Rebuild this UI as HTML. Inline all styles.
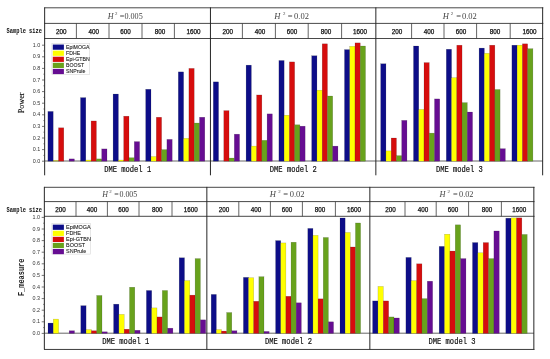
<!DOCTYPE html>
<html><head><meta charset="utf-8"><title>Power and F_measure</title>
<style>
html,body{margin:0;padding:0;background:#fff;}
svg{display:block}
text{fill:#222}
.tk{font-family:"Liberation Sans",sans-serif;font-size:5.4px;fill:#333}
.cl{font-family:"Liberation Sans",sans-serif;font-size:6.3px;fill:#111;stroke:#111;stroke-width:0.25px}
.lg{font-family:"Liberation Sans",sans-serif;fill:#222;stroke:#222;stroke-width:0.1px}
.tt{font-family:"Liberation Serif",serif;fill:#444}
.pw{font-family:"Liberation Serif",serif;font-size:8.1px;fill:#111;stroke:#111;stroke-width:0.15px}
.ss{font-family:"Liberation Mono",monospace;font-size:7px;font-weight:bold;fill:#111}
.dm{font-family:"Liberation Mono",monospace;font-size:8.6px;fill:#111;stroke:#111;stroke-width:0.2px}
.fm{font-family:"Liberation Mono",monospace;font-size:8.6px;font-weight:bold;fill:#222}
</style></head>
<body>
<svg width="550" height="359" viewBox="0 0 550 359">
<defs><filter id="soft" x="0" y="0" width="550" height="359" filterUnits="userSpaceOnUse"><feGaussianBlur stdDeviation="0.35"/></filter></defs>
<rect width="550" height="359" fill="#fff"/>
<g filter="url(#soft)">
<rect width="550" height="359" fill="#fff"/>
<line x1="44.8" y1="161.0" x2="542.8" y2="161.0" stroke="#555" stroke-width="0.9"/>
<rect x="47.90" y="111.44" width="5.30" height="49.76" fill="#0a1088" stroke="#000" stroke-opacity="0.28" stroke-width="0.45"/>
<rect x="53.20" y="160.50" width="5.30" height="0.70" fill="#ffff00" stroke="#000" stroke-opacity="0.28" stroke-width="0.45"/>
<rect x="58.50" y="127.79" width="5.30" height="33.41" fill="#d60e0e" stroke="#000" stroke-opacity="0.28" stroke-width="0.45"/>
<rect x="69.10" y="158.88" width="5.30" height="2.32" fill="#660e92" stroke="#000" stroke-opacity="0.28" stroke-width="0.45"/>
<rect x="80.50" y="97.63" width="5.30" height="63.57" fill="#0a1088" stroke="#000" stroke-opacity="0.28" stroke-width="0.45"/>
<rect x="85.80" y="160.04" width="5.30" height="1.16" fill="#ffff00" stroke="#000" stroke-opacity="0.28" stroke-width="0.45"/>
<rect x="91.10" y="120.95" width="5.30" height="40.25" fill="#d60e0e" stroke="#000" stroke-opacity="0.28" stroke-width="0.45"/>
<rect x="96.40" y="158.88" width="5.30" height="2.32" fill="#68a21c" stroke="#000" stroke-opacity="0.28" stroke-width="0.45"/>
<rect x="101.70" y="148.90" width="5.30" height="12.30" fill="#660e92" stroke="#000" stroke-opacity="0.28" stroke-width="0.45"/>
<rect x="113.10" y="94.04" width="5.30" height="67.16" fill="#0a1088" stroke="#000" stroke-opacity="0.28" stroke-width="0.45"/>
<rect x="118.40" y="160.04" width="5.30" height="1.16" fill="#ffff00" stroke="#000" stroke-opacity="0.28" stroke-width="0.45"/>
<rect x="123.70" y="116.19" width="5.30" height="45.01" fill="#d60e0e" stroke="#000" stroke-opacity="0.28" stroke-width="0.45"/>
<rect x="129.00" y="157.72" width="5.30" height="3.48" fill="#68a21c" stroke="#000" stroke-opacity="0.28" stroke-width="0.45"/>
<rect x="134.30" y="141.60" width="5.30" height="19.60" fill="#660e92" stroke="#000" stroke-opacity="0.28" stroke-width="0.45"/>
<rect x="145.70" y="89.28" width="5.30" height="71.92" fill="#0a1088" stroke="#000" stroke-opacity="0.28" stroke-width="0.45"/>
<rect x="151.00" y="156.56" width="5.30" height="4.64" fill="#ffff00" stroke="#000" stroke-opacity="0.28" stroke-width="0.45"/>
<rect x="156.30" y="117.24" width="5.30" height="43.96" fill="#d60e0e" stroke="#000" stroke-opacity="0.28" stroke-width="0.45"/>
<rect x="161.60" y="149.60" width="5.30" height="11.60" fill="#68a21c" stroke="#000" stroke-opacity="0.28" stroke-width="0.45"/>
<rect x="166.90" y="139.39" width="5.30" height="21.81" fill="#660e92" stroke="#000" stroke-opacity="0.28" stroke-width="0.45"/>
<rect x="178.30" y="71.88" width="5.30" height="89.32" fill="#0a1088" stroke="#000" stroke-opacity="0.28" stroke-width="0.45"/>
<rect x="183.60" y="138.35" width="5.30" height="22.85" fill="#ffff00" stroke="#000" stroke-opacity="0.28" stroke-width="0.45"/>
<rect x="188.90" y="68.40" width="5.30" height="92.80" fill="#d60e0e" stroke="#000" stroke-opacity="0.28" stroke-width="0.45"/>
<rect x="194.20" y="123.04" width="5.30" height="38.16" fill="#68a21c" stroke="#000" stroke-opacity="0.28" stroke-width="0.45"/>
<rect x="199.50" y="117.24" width="5.30" height="43.96" fill="#660e92" stroke="#000" stroke-opacity="0.28" stroke-width="0.45"/>
<rect x="213.30" y="81.86" width="5.25" height="79.34" fill="#0a1088" stroke="#000" stroke-opacity="0.28" stroke-width="0.45"/>
<rect x="223.80" y="110.62" width="5.25" height="50.58" fill="#d60e0e" stroke="#000" stroke-opacity="0.28" stroke-width="0.45"/>
<rect x="229.05" y="158.07" width="5.25" height="3.13" fill="#68a21c" stroke="#000" stroke-opacity="0.28" stroke-width="0.45"/>
<rect x="234.30" y="134.17" width="5.25" height="27.03" fill="#660e92" stroke="#000" stroke-opacity="0.28" stroke-width="0.45"/>
<rect x="246.10" y="65.15" width="5.25" height="96.05" fill="#0a1088" stroke="#000" stroke-opacity="0.28" stroke-width="0.45"/>
<rect x="251.35" y="146.12" width="5.25" height="15.08" fill="#ffff00" stroke="#000" stroke-opacity="0.28" stroke-width="0.45"/>
<rect x="256.60" y="94.96" width="5.25" height="66.24" fill="#d60e0e" stroke="#000" stroke-opacity="0.28" stroke-width="0.45"/>
<rect x="261.85" y="140.32" width="5.25" height="20.88" fill="#68a21c" stroke="#000" stroke-opacity="0.28" stroke-width="0.45"/>
<rect x="267.10" y="113.87" width="5.25" height="47.33" fill="#660e92" stroke="#000" stroke-opacity="0.28" stroke-width="0.45"/>
<rect x="278.90" y="60.51" width="5.25" height="100.69" fill="#0a1088" stroke="#000" stroke-opacity="0.28" stroke-width="0.45"/>
<rect x="284.15" y="115.26" width="5.25" height="45.94" fill="#ffff00" stroke="#000" stroke-opacity="0.28" stroke-width="0.45"/>
<rect x="289.40" y="61.90" width="5.25" height="99.30" fill="#d60e0e" stroke="#000" stroke-opacity="0.28" stroke-width="0.45"/>
<rect x="294.65" y="124.78" width="5.25" height="36.42" fill="#68a21c" stroke="#000" stroke-opacity="0.28" stroke-width="0.45"/>
<rect x="299.90" y="126.17" width="5.25" height="35.03" fill="#660e92" stroke="#000" stroke-opacity="0.28" stroke-width="0.45"/>
<rect x="311.70" y="55.76" width="5.25" height="105.44" fill="#0a1088" stroke="#000" stroke-opacity="0.28" stroke-width="0.45"/>
<rect x="316.95" y="90.21" width="5.25" height="70.99" fill="#ffff00" stroke="#000" stroke-opacity="0.28" stroke-width="0.45"/>
<rect x="322.20" y="43.81" width="5.25" height="117.39" fill="#d60e0e" stroke="#000" stroke-opacity="0.28" stroke-width="0.45"/>
<rect x="327.45" y="96.01" width="5.25" height="65.19" fill="#68a21c" stroke="#000" stroke-opacity="0.28" stroke-width="0.45"/>
<rect x="332.70" y="146.12" width="5.25" height="15.08" fill="#660e92" stroke="#000" stroke-opacity="0.28" stroke-width="0.45"/>
<rect x="344.50" y="49.61" width="5.25" height="111.59" fill="#0a1088" stroke="#000" stroke-opacity="0.28" stroke-width="0.45"/>
<rect x="349.75" y="46.36" width="5.25" height="114.84" fill="#ffff00" stroke="#000" stroke-opacity="0.28" stroke-width="0.45"/>
<rect x="355.00" y="42.88" width="5.25" height="118.32" fill="#d60e0e" stroke="#000" stroke-opacity="0.28" stroke-width="0.45"/>
<rect x="360.25" y="46.01" width="5.25" height="115.19" fill="#68a21c" stroke="#000" stroke-opacity="0.28" stroke-width="0.45"/>
<rect x="380.70" y="63.76" width="5.25" height="97.44" fill="#0a1088" stroke="#000" stroke-opacity="0.28" stroke-width="0.45"/>
<rect x="385.95" y="150.88" width="5.25" height="10.32" fill="#ffff00" stroke="#000" stroke-opacity="0.28" stroke-width="0.45"/>
<rect x="391.20" y="138.00" width="5.25" height="23.20" fill="#d60e0e" stroke="#000" stroke-opacity="0.28" stroke-width="0.45"/>
<rect x="396.45" y="155.63" width="5.25" height="5.57" fill="#68a21c" stroke="#000" stroke-opacity="0.28" stroke-width="0.45"/>
<rect x="401.70" y="120.37" width="5.25" height="40.83" fill="#660e92" stroke="#000" stroke-opacity="0.28" stroke-width="0.45"/>
<rect x="413.50" y="46.01" width="5.25" height="115.19" fill="#0a1088" stroke="#000" stroke-opacity="0.28" stroke-width="0.45"/>
<rect x="418.75" y="109.46" width="5.25" height="51.74" fill="#ffff00" stroke="#000" stroke-opacity="0.28" stroke-width="0.45"/>
<rect x="424.00" y="62.60" width="5.25" height="98.60" fill="#d60e0e" stroke="#000" stroke-opacity="0.28" stroke-width="0.45"/>
<rect x="429.25" y="133.13" width="5.25" height="28.07" fill="#68a21c" stroke="#000" stroke-opacity="0.28" stroke-width="0.45"/>
<rect x="434.50" y="98.91" width="5.25" height="62.29" fill="#660e92" stroke="#000" stroke-opacity="0.28" stroke-width="0.45"/>
<rect x="446.30" y="49.26" width="5.25" height="111.94" fill="#0a1088" stroke="#000" stroke-opacity="0.28" stroke-width="0.45"/>
<rect x="451.55" y="77.68" width="5.25" height="83.52" fill="#ffff00" stroke="#000" stroke-opacity="0.28" stroke-width="0.45"/>
<rect x="456.80" y="45.20" width="5.25" height="116.00" fill="#d60e0e" stroke="#000" stroke-opacity="0.28" stroke-width="0.45"/>
<rect x="462.05" y="102.62" width="5.25" height="58.58" fill="#68a21c" stroke="#000" stroke-opacity="0.28" stroke-width="0.45"/>
<rect x="467.30" y="112.02" width="5.25" height="49.18" fill="#660e92" stroke="#000" stroke-opacity="0.28" stroke-width="0.45"/>
<rect x="479.10" y="48.10" width="5.25" height="113.10" fill="#0a1088" stroke="#000" stroke-opacity="0.28" stroke-width="0.45"/>
<rect x="484.35" y="53.32" width="5.25" height="107.88" fill="#ffff00" stroke="#000" stroke-opacity="0.28" stroke-width="0.45"/>
<rect x="489.60" y="45.20" width="5.25" height="116.00" fill="#d60e0e" stroke="#000" stroke-opacity="0.28" stroke-width="0.45"/>
<rect x="494.85" y="89.51" width="5.25" height="71.69" fill="#68a21c" stroke="#000" stroke-opacity="0.28" stroke-width="0.45"/>
<rect x="500.10" y="148.67" width="5.25" height="12.53" fill="#660e92" stroke="#000" stroke-opacity="0.28" stroke-width="0.45"/>
<rect x="511.90" y="45.20" width="5.25" height="116.00" fill="#0a1088" stroke="#000" stroke-opacity="0.28" stroke-width="0.45"/>
<rect x="517.15" y="45.20" width="5.25" height="116.00" fill="#ffff00" stroke="#000" stroke-opacity="0.28" stroke-width="0.45"/>
<rect x="522.40" y="43.81" width="5.25" height="117.39" fill="#d60e0e" stroke="#000" stroke-opacity="0.28" stroke-width="0.45"/>
<rect x="527.65" y="48.68" width="5.25" height="112.52" fill="#68a21c" stroke="#000" stroke-opacity="0.28" stroke-width="0.45"/>
<line x1="44.3" y1="7.8" x2="543.3" y2="7.8" stroke="#484848" stroke-width="1"/>
<line x1="44.3" y1="23.4" x2="543.3" y2="23.4" stroke="#484848" stroke-width="1"/>
<line x1="44.3" y1="38.5" x2="543.3" y2="38.5" stroke="#484848" stroke-width="1"/>
<line x1="44.65" y1="7.3999999999999995" x2="44.65" y2="175.3" stroke="#262626" stroke-width="1"/>
<line x1="210.45" y1="7.3999999999999995" x2="210.45" y2="175.3" stroke="#262626" stroke-width="1"/>
<line x1="375.85" y1="7.3999999999999995" x2="375.85" y2="175.3" stroke="#262626" stroke-width="1"/>
<line x1="542.65" y1="7.3999999999999995" x2="542.65" y2="175.3" stroke="#262626" stroke-width="1"/>
<line x1="76.4" y1="23.4" x2="76.4" y2="38.5" stroke="#3c3c3c" stroke-width="0.8"/>
<line x1="109" y1="23.4" x2="109" y2="38.5" stroke="#3c3c3c" stroke-width="0.8"/>
<line x1="142" y1="23.4" x2="142" y2="38.5" stroke="#3c3c3c" stroke-width="0.8"/>
<line x1="174.4" y1="23.4" x2="174.4" y2="38.5" stroke="#3c3c3c" stroke-width="0.8"/>
<line x1="242.4" y1="23.4" x2="242.4" y2="38.5" stroke="#3c3c3c" stroke-width="0.8"/>
<line x1="275.4" y1="23.4" x2="275.4" y2="38.5" stroke="#3c3c3c" stroke-width="0.8"/>
<line x1="308.2" y1="23.4" x2="308.2" y2="38.5" stroke="#3c3c3c" stroke-width="0.8"/>
<line x1="341.6" y1="23.4" x2="341.6" y2="38.5" stroke="#3c3c3c" stroke-width="0.8"/>
<line x1="411.6" y1="23.4" x2="411.6" y2="38.5" stroke="#3c3c3c" stroke-width="0.8"/>
<line x1="444" y1="23.4" x2="444" y2="38.5" stroke="#3c3c3c" stroke-width="0.8"/>
<line x1="476.6" y1="23.4" x2="476.6" y2="38.5" stroke="#3c3c3c" stroke-width="0.8"/>
<line x1="510.2" y1="23.4" x2="510.2" y2="38.5" stroke="#3c3c3c" stroke-width="0.8"/>
<line x1="42.0" y1="161.20" x2="44.8" y2="161.20" stroke="#3c3c3c" stroke-width="0.7"/>
<text x="40.199999999999996" y="162.80" text-anchor="end" class="tk">0.0</text>
<line x1="43.4" y1="155.40" x2="44.8" y2="155.40" stroke="#3c3c3c" stroke-width="0.6"/>
<line x1="42.0" y1="149.60" x2="44.8" y2="149.60" stroke="#3c3c3c" stroke-width="0.7"/>
<text x="40.199999999999996" y="151.20" text-anchor="end" class="tk">0.1</text>
<line x1="43.4" y1="143.80" x2="44.8" y2="143.80" stroke="#3c3c3c" stroke-width="0.6"/>
<line x1="42.0" y1="138.00" x2="44.8" y2="138.00" stroke="#3c3c3c" stroke-width="0.7"/>
<text x="40.199999999999996" y="139.60" text-anchor="end" class="tk">0.2</text>
<line x1="43.4" y1="132.20" x2="44.8" y2="132.20" stroke="#3c3c3c" stroke-width="0.6"/>
<line x1="42.0" y1="126.40" x2="44.8" y2="126.40" stroke="#3c3c3c" stroke-width="0.7"/>
<text x="40.199999999999996" y="128.00" text-anchor="end" class="tk">0.3</text>
<line x1="43.4" y1="120.60" x2="44.8" y2="120.60" stroke="#3c3c3c" stroke-width="0.6"/>
<line x1="42.0" y1="114.80" x2="44.8" y2="114.80" stroke="#3c3c3c" stroke-width="0.7"/>
<text x="40.199999999999996" y="116.40" text-anchor="end" class="tk">0.4</text>
<line x1="43.4" y1="109.00" x2="44.8" y2="109.00" stroke="#3c3c3c" stroke-width="0.6"/>
<line x1="42.0" y1="103.20" x2="44.8" y2="103.20" stroke="#3c3c3c" stroke-width="0.7"/>
<text x="40.199999999999996" y="104.80" text-anchor="end" class="tk">0.5</text>
<line x1="43.4" y1="97.40" x2="44.8" y2="97.40" stroke="#3c3c3c" stroke-width="0.6"/>
<line x1="42.0" y1="91.60" x2="44.8" y2="91.60" stroke="#3c3c3c" stroke-width="0.7"/>
<text x="40.199999999999996" y="93.20" text-anchor="end" class="tk">0.6</text>
<line x1="43.4" y1="85.80" x2="44.8" y2="85.80" stroke="#3c3c3c" stroke-width="0.6"/>
<line x1="42.0" y1="80.00" x2="44.8" y2="80.00" stroke="#3c3c3c" stroke-width="0.7"/>
<text x="40.199999999999996" y="81.60" text-anchor="end" class="tk">0.7</text>
<line x1="43.4" y1="74.20" x2="44.8" y2="74.20" stroke="#3c3c3c" stroke-width="0.6"/>
<line x1="42.0" y1="68.40" x2="44.8" y2="68.40" stroke="#3c3c3c" stroke-width="0.7"/>
<text x="40.199999999999996" y="70.00" text-anchor="end" class="tk">0.8</text>
<line x1="43.4" y1="62.60" x2="44.8" y2="62.60" stroke="#3c3c3c" stroke-width="0.6"/>
<line x1="42.0" y1="56.80" x2="44.8" y2="56.80" stroke="#3c3c3c" stroke-width="0.7"/>
<text x="40.199999999999996" y="58.40" text-anchor="end" class="tk">0.9</text>
<line x1="43.4" y1="51.00" x2="44.8" y2="51.00" stroke="#3c3c3c" stroke-width="0.6"/>
<line x1="42.0" y1="45.20" x2="44.8" y2="45.20" stroke="#3c3c3c" stroke-width="0.7"/>
<text x="40.199999999999996" y="46.80" text-anchor="end" class="tk">1.0</text>
<text x="61.20" y="34.00" text-anchor="middle" class="cl">200</text>
<text x="93.80" y="34.00" text-anchor="middle" class="cl">400</text>
<text x="125.50" y="34.00" text-anchor="middle" class="cl">600</text>
<text x="160.00" y="34.00" text-anchor="middle" class="cl">800</text>
<text x="193.50" y="34.00" text-anchor="middle" class="cl">1600</text>
<text x="227.80" y="34.00" text-anchor="middle" class="cl">200</text>
<text x="260.00" y="34.00" text-anchor="middle" class="cl">400</text>
<text x="292.00" y="34.00" text-anchor="middle" class="cl">600</text>
<text x="326.00" y="34.00" text-anchor="middle" class="cl">800</text>
<text x="360.00" y="34.00" text-anchor="middle" class="cl">1600</text>
<text x="397.00" y="34.00" text-anchor="middle" class="cl">200</text>
<text x="429.00" y="34.00" text-anchor="middle" class="cl">400</text>
<text x="461.00" y="34.00" text-anchor="middle" class="cl">600</text>
<text x="495.00" y="34.00" text-anchor="middle" class="cl">800</text>
<text x="529.40" y="34.00" text-anchor="middle" class="cl">1600</text>
<text x="6.6" y="33.4" class="ss" textLength="35.4" lengthAdjust="spacingAndGlyphs">Sample size</text>
<text class="tt" style="font-size:8.1px" y="18.5"><tspan x="107.70" font-style="italic">H</tspan><tspan x="115.00" dy="-3.7" style="font-size:4.9px">2</tspan><tspan x="119.80" dy="3.7">=</tspan><tspan x="124.50">0.005</tspan></text>
<text x="104.20" y="171.70" class="dm" textLength="47" lengthAdjust="spacingAndGlyphs">DME model 1</text>
<text class="tt" style="font-size:8.5px" y="18.5"><tspan x="274.30" font-style="italic">H</tspan><tspan x="282.90" dy="-3.7" style="font-size:4.9px">2</tspan><tspan x="287.70" dy="3.7">=</tspan><tspan x="294.10">0.02</tspan></text>
<text x="269.80" y="171.70" class="dm" textLength="47" lengthAdjust="spacingAndGlyphs">DME model 2</text>
<text class="tt" style="font-size:8.5px" y="18.5"><tspan x="442.80" font-style="italic">H</tspan><tspan x="450.80" dy="-3.7" style="font-size:4.9px">2</tspan><tspan x="456.20" dy="3.7">=</tspan><tspan x="461.90">0.02</tspan></text>
<text x="435.90" y="171.70" class="dm" textLength="47" lengthAdjust="spacingAndGlyphs">DME model 3</text>
<text transform="translate(23.5 113.22) rotate(-90)" class="pw">Power</text>
<rect x="51.9" y="43.5" width="37.8" height="30.8" fill="#fff" stroke="#d8d8d8" stroke-width="0.6"/>
<rect x="52.8" y="44.55" width="11.1" height="5.2" fill="#0a1088"/>
<text x="66.1" y="48.95" class="lg" style="font-size:5.2px">EpiMOGA</text>
<rect x="52.8" y="50.63" width="11.1" height="5.2" fill="#ffff00"/>
<text x="66.1" y="55.03" class="lg" style="font-size:5.2px">FDHE</text>
<rect x="52.8" y="56.71" width="11.1" height="5.2" fill="#d60e0e"/>
<text x="66.1" y="61.11" class="lg" style="font-size:5.2px">Epi-GTBN</text>
<rect x="52.8" y="62.79" width="11.1" height="5.2" fill="#68a21c"/>
<text x="66.1" y="67.19" class="lg" style="font-size:5.2px">BOOST</text>
<rect x="52.8" y="68.87" width="11.1" height="5.2" fill="#660e92"/>
<text x="66.1" y="73.27" class="lg" style="font-size:5.2px">SNPrule</text>
<line x1="44.5" y1="333.2" x2="534" y2="333.2" stroke="#555" stroke-width="0.9"/>
<rect x="48.00" y="323.08" width="5.30" height="10.32" fill="#0a1088" stroke="#000" stroke-opacity="0.28" stroke-width="0.45"/>
<rect x="53.30" y="319.13" width="5.30" height="14.27" fill="#ffff00" stroke="#000" stroke-opacity="0.28" stroke-width="0.45"/>
<rect x="69.20" y="330.73" width="5.30" height="2.67" fill="#660e92" stroke="#000" stroke-opacity="0.28" stroke-width="0.45"/>
<rect x="80.80" y="305.68" width="5.30" height="27.72" fill="#0a1088" stroke="#000" stroke-opacity="0.28" stroke-width="0.45"/>
<rect x="86.10" y="329.57" width="5.30" height="3.83" fill="#ffff00" stroke="#000" stroke-opacity="0.28" stroke-width="0.45"/>
<rect x="91.40" y="330.73" width="5.30" height="2.67" fill="#d60e0e" stroke="#000" stroke-opacity="0.28" stroke-width="0.45"/>
<rect x="96.70" y="295.47" width="5.30" height="37.93" fill="#68a21c" stroke="#000" stroke-opacity="0.28" stroke-width="0.45"/>
<rect x="102.00" y="331.78" width="5.30" height="1.62" fill="#660e92" stroke="#000" stroke-opacity="0.28" stroke-width="0.45"/>
<rect x="113.60" y="304.17" width="5.30" height="29.23" fill="#0a1088" stroke="#000" stroke-opacity="0.28" stroke-width="0.45"/>
<rect x="118.90" y="314.38" width="5.30" height="19.02" fill="#ffff00" stroke="#000" stroke-opacity="0.28" stroke-width="0.45"/>
<rect x="124.20" y="329.22" width="5.30" height="4.18" fill="#d60e0e" stroke="#000" stroke-opacity="0.28" stroke-width="0.45"/>
<rect x="129.50" y="287.23" width="5.30" height="46.17" fill="#68a21c" stroke="#000" stroke-opacity="0.28" stroke-width="0.45"/>
<rect x="134.80" y="330.27" width="5.30" height="3.13" fill="#660e92" stroke="#000" stroke-opacity="0.28" stroke-width="0.45"/>
<rect x="146.40" y="290.48" width="5.30" height="42.92" fill="#0a1088" stroke="#000" stroke-opacity="0.28" stroke-width="0.45"/>
<rect x="151.70" y="307.88" width="5.30" height="25.52" fill="#ffff00" stroke="#000" stroke-opacity="0.28" stroke-width="0.45"/>
<rect x="157.00" y="316.93" width="5.30" height="16.47" fill="#d60e0e" stroke="#000" stroke-opacity="0.28" stroke-width="0.45"/>
<rect x="162.30" y="290.48" width="5.30" height="42.92" fill="#68a21c" stroke="#000" stroke-opacity="0.28" stroke-width="0.45"/>
<rect x="167.60" y="328.18" width="5.30" height="5.22" fill="#660e92" stroke="#000" stroke-opacity="0.28" stroke-width="0.45"/>
<rect x="179.20" y="257.77" width="5.30" height="75.63" fill="#0a1088" stroke="#000" stroke-opacity="0.28" stroke-width="0.45"/>
<rect x="184.50" y="280.62" width="5.30" height="52.78" fill="#ffff00" stroke="#000" stroke-opacity="0.28" stroke-width="0.45"/>
<rect x="189.80" y="295.12" width="5.30" height="38.28" fill="#d60e0e" stroke="#000" stroke-opacity="0.28" stroke-width="0.45"/>
<rect x="195.10" y="258.58" width="5.30" height="74.82" fill="#68a21c" stroke="#000" stroke-opacity="0.28" stroke-width="0.45"/>
<rect x="200.40" y="319.83" width="5.30" height="13.57" fill="#660e92" stroke="#000" stroke-opacity="0.28" stroke-width="0.45"/>
<rect x="211.20" y="294.42" width="5.15" height="38.98" fill="#0a1088" stroke="#000" stroke-opacity="0.28" stroke-width="0.45"/>
<rect x="216.35" y="329.57" width="5.15" height="3.83" fill="#ffff00" stroke="#000" stroke-opacity="0.28" stroke-width="0.45"/>
<rect x="221.50" y="331.08" width="5.15" height="2.32" fill="#d60e0e" stroke="#000" stroke-opacity="0.28" stroke-width="0.45"/>
<rect x="226.65" y="312.52" width="5.15" height="20.88" fill="#68a21c" stroke="#000" stroke-opacity="0.28" stroke-width="0.45"/>
<rect x="231.80" y="330.73" width="5.15" height="2.67" fill="#660e92" stroke="#000" stroke-opacity="0.28" stroke-width="0.45"/>
<rect x="243.40" y="277.37" width="5.15" height="56.03" fill="#0a1088" stroke="#000" stroke-opacity="0.28" stroke-width="0.45"/>
<rect x="248.55" y="277.72" width="5.15" height="55.68" fill="#ffff00" stroke="#000" stroke-opacity="0.28" stroke-width="0.45"/>
<rect x="253.70" y="301.27" width="5.15" height="32.13" fill="#d60e0e" stroke="#000" stroke-opacity="0.28" stroke-width="0.45"/>
<rect x="258.85" y="276.68" width="5.15" height="56.72" fill="#68a21c" stroke="#000" stroke-opacity="0.28" stroke-width="0.45"/>
<rect x="264.00" y="331.43" width="5.15" height="1.97" fill="#660e92" stroke="#000" stroke-opacity="0.28" stroke-width="0.45"/>
<rect x="275.60" y="240.60" width="5.15" height="92.80" fill="#0a1088" stroke="#000" stroke-opacity="0.28" stroke-width="0.45"/>
<rect x="280.75" y="242.92" width="5.15" height="90.48" fill="#ffff00" stroke="#000" stroke-opacity="0.28" stroke-width="0.45"/>
<rect x="285.90" y="296.28" width="5.15" height="37.12" fill="#d60e0e" stroke="#000" stroke-opacity="0.28" stroke-width="0.45"/>
<rect x="291.05" y="242.22" width="5.15" height="91.18" fill="#68a21c" stroke="#000" stroke-opacity="0.28" stroke-width="0.45"/>
<rect x="296.20" y="302.78" width="5.15" height="30.62" fill="#660e92" stroke="#000" stroke-opacity="0.28" stroke-width="0.45"/>
<rect x="307.80" y="228.42" width="5.15" height="104.98" fill="#0a1088" stroke="#000" stroke-opacity="0.28" stroke-width="0.45"/>
<rect x="312.95" y="235.38" width="5.15" height="98.02" fill="#ffff00" stroke="#000" stroke-opacity="0.28" stroke-width="0.45"/>
<rect x="318.10" y="298.83" width="5.15" height="34.57" fill="#d60e0e" stroke="#000" stroke-opacity="0.28" stroke-width="0.45"/>
<rect x="323.25" y="237.47" width="5.15" height="95.93" fill="#68a21c" stroke="#000" stroke-opacity="0.28" stroke-width="0.45"/>
<rect x="328.40" y="321.80" width="5.15" height="11.60" fill="#660e92" stroke="#000" stroke-opacity="0.28" stroke-width="0.45"/>
<rect x="340.00" y="217.98" width="5.15" height="115.42" fill="#0a1088" stroke="#000" stroke-opacity="0.28" stroke-width="0.45"/>
<rect x="345.15" y="232.48" width="5.15" height="100.92" fill="#ffff00" stroke="#000" stroke-opacity="0.28" stroke-width="0.45"/>
<rect x="350.30" y="246.98" width="5.15" height="86.42" fill="#d60e0e" stroke="#000" stroke-opacity="0.28" stroke-width="0.45"/>
<rect x="355.45" y="222.97" width="5.15" height="110.43" fill="#68a21c" stroke="#000" stroke-opacity="0.28" stroke-width="0.45"/>
<rect x="372.60" y="300.92" width="5.35" height="32.48" fill="#0a1088" stroke="#000" stroke-opacity="0.28" stroke-width="0.45"/>
<rect x="377.95" y="286.42" width="5.35" height="46.98" fill="#ffff00" stroke="#000" stroke-opacity="0.28" stroke-width="0.45"/>
<rect x="383.30" y="300.92" width="5.35" height="32.48" fill="#d60e0e" stroke="#000" stroke-opacity="0.28" stroke-width="0.45"/>
<rect x="388.65" y="316.93" width="5.35" height="16.47" fill="#68a21c" stroke="#000" stroke-opacity="0.28" stroke-width="0.45"/>
<rect x="394.00" y="317.97" width="5.35" height="15.43" fill="#660e92" stroke="#000" stroke-opacity="0.28" stroke-width="0.45"/>
<rect x="405.90" y="257.42" width="5.35" height="75.98" fill="#0a1088" stroke="#000" stroke-opacity="0.28" stroke-width="0.45"/>
<rect x="411.25" y="280.62" width="5.35" height="52.78" fill="#ffff00" stroke="#000" stroke-opacity="0.28" stroke-width="0.45"/>
<rect x="416.60" y="263.80" width="5.35" height="69.60" fill="#d60e0e" stroke="#000" stroke-opacity="0.28" stroke-width="0.45"/>
<rect x="421.95" y="298.60" width="5.35" height="34.80" fill="#68a21c" stroke="#000" stroke-opacity="0.28" stroke-width="0.45"/>
<rect x="427.30" y="281.20" width="5.35" height="52.20" fill="#660e92" stroke="#000" stroke-opacity="0.28" stroke-width="0.45"/>
<rect x="439.20" y="246.40" width="5.35" height="87.00" fill="#0a1088" stroke="#000" stroke-opacity="0.28" stroke-width="0.45"/>
<rect x="444.55" y="234.22" width="5.35" height="99.18" fill="#ffff00" stroke="#000" stroke-opacity="0.28" stroke-width="0.45"/>
<rect x="449.90" y="251.04" width="5.35" height="82.36" fill="#d60e0e" stroke="#000" stroke-opacity="0.28" stroke-width="0.45"/>
<rect x="455.25" y="224.82" width="5.35" height="108.58" fill="#68a21c" stroke="#000" stroke-opacity="0.28" stroke-width="0.45"/>
<rect x="460.60" y="258.58" width="5.35" height="74.82" fill="#660e92" stroke="#000" stroke-opacity="0.28" stroke-width="0.45"/>
<rect x="472.50" y="242.57" width="5.35" height="90.83" fill="#0a1088" stroke="#000" stroke-opacity="0.28" stroke-width="0.45"/>
<rect x="477.85" y="252.78" width="5.35" height="80.62" fill="#ffff00" stroke="#000" stroke-opacity="0.28" stroke-width="0.45"/>
<rect x="483.20" y="242.57" width="5.35" height="90.83" fill="#d60e0e" stroke="#000" stroke-opacity="0.28" stroke-width="0.45"/>
<rect x="488.55" y="258.58" width="5.35" height="74.82" fill="#68a21c" stroke="#000" stroke-opacity="0.28" stroke-width="0.45"/>
<rect x="493.90" y="230.97" width="5.35" height="102.43" fill="#660e92" stroke="#000" stroke-opacity="0.28" stroke-width="0.45"/>
<rect x="505.80" y="218.21" width="5.35" height="115.19" fill="#0a1088" stroke="#000" stroke-opacity="0.28" stroke-width="0.45"/>
<rect x="511.15" y="217.86" width="5.35" height="115.54" fill="#ffff00" stroke="#000" stroke-opacity="0.28" stroke-width="0.45"/>
<rect x="516.50" y="217.86" width="5.35" height="115.54" fill="#d60e0e" stroke="#000" stroke-opacity="0.28" stroke-width="0.45"/>
<rect x="521.85" y="234.45" width="5.35" height="98.95" fill="#68a21c" stroke="#000" stroke-opacity="0.28" stroke-width="0.45"/>
<line x1="44.0" y1="187.3" x2="534.5" y2="187.3" stroke="#484848" stroke-width="1"/>
<line x1="44.0" y1="201.6" x2="534.5" y2="201.6" stroke="#484848" stroke-width="1"/>
<line x1="44.0" y1="216.3" x2="534.5" y2="216.3" stroke="#484848" stroke-width="1"/>
<line x1="44.0" y1="349.45" x2="534.5" y2="349.45" stroke="#3c3c3c" stroke-width="1"/>
<line x1="44.35" y1="186.9" x2="44.35" y2="349.45" stroke="#262626" stroke-width="1"/>
<line x1="206.85" y1="186.9" x2="206.85" y2="349.45" stroke="#262626" stroke-width="1"/>
<line x1="369.85" y1="186.9" x2="369.85" y2="349.45" stroke="#262626" stroke-width="1"/>
<line x1="533.85" y1="186.9" x2="533.85" y2="349.45" stroke="#262626" stroke-width="1"/>
<line x1="76" y1="201.6" x2="76" y2="216.3" stroke="#3c3c3c" stroke-width="0.8"/>
<line x1="107.4" y1="201.6" x2="107.4" y2="216.3" stroke="#3c3c3c" stroke-width="0.8"/>
<line x1="139" y1="201.6" x2="139" y2="216.3" stroke="#3c3c3c" stroke-width="0.8"/>
<line x1="172" y1="201.6" x2="172" y2="216.3" stroke="#3c3c3c" stroke-width="0.8"/>
<line x1="238.8" y1="201.6" x2="238.8" y2="216.3" stroke="#3c3c3c" stroke-width="0.8"/>
<line x1="270.4" y1="201.6" x2="270.4" y2="216.3" stroke="#3c3c3c" stroke-width="0.8"/>
<line x1="302.4" y1="201.6" x2="302.4" y2="216.3" stroke="#3c3c3c" stroke-width="0.8"/>
<line x1="335.4" y1="201.6" x2="335.4" y2="216.3" stroke="#3c3c3c" stroke-width="0.8"/>
<line x1="405" y1="201.6" x2="405" y2="216.3" stroke="#3c3c3c" stroke-width="0.8"/>
<line x1="436.2" y1="201.6" x2="436.2" y2="216.3" stroke="#3c3c3c" stroke-width="0.8"/>
<line x1="468.6" y1="201.6" x2="468.6" y2="216.3" stroke="#3c3c3c" stroke-width="0.8"/>
<line x1="501.4" y1="201.6" x2="501.4" y2="216.3" stroke="#3c3c3c" stroke-width="0.8"/>
<line x1="41.7" y1="333.40" x2="44.5" y2="333.40" stroke="#3c3c3c" stroke-width="0.7"/>
<text x="39.9" y="335.00" text-anchor="end" class="tk">0.0</text>
<line x1="43.1" y1="327.60" x2="44.5" y2="327.60" stroke="#3c3c3c" stroke-width="0.6"/>
<line x1="41.7" y1="321.80" x2="44.5" y2="321.80" stroke="#3c3c3c" stroke-width="0.7"/>
<text x="39.9" y="323.40" text-anchor="end" class="tk">0.1</text>
<line x1="43.1" y1="316.00" x2="44.5" y2="316.00" stroke="#3c3c3c" stroke-width="0.6"/>
<line x1="41.7" y1="310.20" x2="44.5" y2="310.20" stroke="#3c3c3c" stroke-width="0.7"/>
<text x="39.9" y="311.80" text-anchor="end" class="tk">0.2</text>
<line x1="43.1" y1="304.40" x2="44.5" y2="304.40" stroke="#3c3c3c" stroke-width="0.6"/>
<line x1="41.7" y1="298.60" x2="44.5" y2="298.60" stroke="#3c3c3c" stroke-width="0.7"/>
<text x="39.9" y="300.20" text-anchor="end" class="tk">0.3</text>
<line x1="43.1" y1="292.80" x2="44.5" y2="292.80" stroke="#3c3c3c" stroke-width="0.6"/>
<line x1="41.7" y1="287.00" x2="44.5" y2="287.00" stroke="#3c3c3c" stroke-width="0.7"/>
<text x="39.9" y="288.60" text-anchor="end" class="tk">0.4</text>
<line x1="43.1" y1="281.20" x2="44.5" y2="281.20" stroke="#3c3c3c" stroke-width="0.6"/>
<line x1="41.7" y1="275.40" x2="44.5" y2="275.40" stroke="#3c3c3c" stroke-width="0.7"/>
<text x="39.9" y="277.00" text-anchor="end" class="tk">0.5</text>
<line x1="43.1" y1="269.60" x2="44.5" y2="269.60" stroke="#3c3c3c" stroke-width="0.6"/>
<line x1="41.7" y1="263.80" x2="44.5" y2="263.80" stroke="#3c3c3c" stroke-width="0.7"/>
<text x="39.9" y="265.40" text-anchor="end" class="tk">0.6</text>
<line x1="43.1" y1="258.00" x2="44.5" y2="258.00" stroke="#3c3c3c" stroke-width="0.6"/>
<line x1="41.7" y1="252.20" x2="44.5" y2="252.20" stroke="#3c3c3c" stroke-width="0.7"/>
<text x="39.9" y="253.80" text-anchor="end" class="tk">0.7</text>
<line x1="43.1" y1="246.40" x2="44.5" y2="246.40" stroke="#3c3c3c" stroke-width="0.6"/>
<line x1="41.7" y1="240.60" x2="44.5" y2="240.60" stroke="#3c3c3c" stroke-width="0.7"/>
<text x="39.9" y="242.20" text-anchor="end" class="tk">0.8</text>
<line x1="43.1" y1="234.80" x2="44.5" y2="234.80" stroke="#3c3c3c" stroke-width="0.6"/>
<line x1="41.7" y1="229.00" x2="44.5" y2="229.00" stroke="#3c3c3c" stroke-width="0.7"/>
<text x="39.9" y="230.60" text-anchor="end" class="tk">0.9</text>
<line x1="43.1" y1="223.20" x2="44.5" y2="223.20" stroke="#3c3c3c" stroke-width="0.6"/>
<line x1="41.7" y1="217.40" x2="44.5" y2="217.40" stroke="#3c3c3c" stroke-width="0.7"/>
<text x="39.9" y="219.00" text-anchor="end" class="tk">1.0</text>
<text x="60.50" y="212.00" text-anchor="middle" class="cl">200</text>
<text x="92.00" y="212.00" text-anchor="middle" class="cl">400</text>
<text x="123.60" y="212.00" text-anchor="middle" class="cl">600</text>
<text x="157.20" y="212.00" text-anchor="middle" class="cl">800</text>
<text x="190.80" y="212.00" text-anchor="middle" class="cl">1600</text>
<text x="224.00" y="212.00" text-anchor="middle" class="cl">200</text>
<text x="256.00" y="212.00" text-anchor="middle" class="cl">400</text>
<text x="287.00" y="212.00" text-anchor="middle" class="cl">600</text>
<text x="320.00" y="212.00" text-anchor="middle" class="cl">800</text>
<text x="354.00" y="212.00" text-anchor="middle" class="cl">1600</text>
<text x="390.50" y="212.00" text-anchor="middle" class="cl">200</text>
<text x="423.00" y="212.00" text-anchor="middle" class="cl">400</text>
<text x="453.00" y="212.00" text-anchor="middle" class="cl">600</text>
<text x="487.00" y="212.00" text-anchor="middle" class="cl">800</text>
<text x="519.30" y="212.00" text-anchor="middle" class="cl">1600</text>
<text x="6.6" y="212.0" class="ss" textLength="35.4" lengthAdjust="spacingAndGlyphs">Sample size</text>
<text class="tt" style="font-size:7.9px" y="197.1"><tspan x="102.30" font-style="italic">H</tspan><tspan x="109.30" dy="-3.7" style="font-size:4.9px">2</tspan><tspan x="114.20" dy="3.7">=</tspan><tspan x="119.50">0.005</tspan></text>
<text x="102.25" y="343.50" class="dm" textLength="47" lengthAdjust="spacingAndGlyphs">DME model 1</text>
<text class="tt" style="font-size:8.5px" y="197.1"><tspan x="269.70" font-style="italic">H</tspan><tspan x="278.30" dy="-3.7" style="font-size:4.9px">2</tspan><tspan x="283.30" dy="3.7">=</tspan><tspan x="289.70">0.02</tspan></text>
<text x="265.00" y="343.50" class="dm" textLength="47" lengthAdjust="spacingAndGlyphs">DME model 2</text>
<text class="tt" style="font-size:8.3px" y="197.1"><tspan x="439.40" font-style="italic">H</tspan><tspan x="447.60" dy="-3.7" style="font-size:4.9px">2</tspan><tspan x="453.00" dy="3.7">=</tspan><tspan x="459.00">0.02</tspan></text>
<text x="428.50" y="343.50" class="dm" textLength="47" lengthAdjust="spacingAndGlyphs">DME model 3</text>
<text transform="translate(23.8 296.12) rotate(-90)" class="fm" textLength="37.5" lengthAdjust="spacingAndGlyphs">F_measure</text>
<rect x="51.9" y="223.3" width="38.5" height="30.8" fill="#fff" stroke="#d8d8d8" stroke-width="0.6"/>
<rect x="52.8" y="224.65" width="11.1" height="5.2" fill="#0a1088"/>
<text x="66.1" y="229.05" class="lg" style="font-size:5.45px">EpiMOGA</text>
<rect x="52.8" y="230.73" width="11.1" height="5.2" fill="#ffff00"/>
<text x="66.1" y="235.13" class="lg" style="font-size:5.45px">FDHE</text>
<rect x="52.8" y="236.81" width="11.1" height="5.2" fill="#d60e0e"/>
<text x="66.1" y="241.21" class="lg" style="font-size:5.45px">Epi-GTBN</text>
<rect x="52.8" y="242.89" width="11.1" height="5.2" fill="#68a21c"/>
<text x="66.1" y="247.29" class="lg" style="font-size:5.45px">BOOST</text>
<rect x="52.8" y="248.97" width="11.1" height="5.2" fill="#660e92"/>
<text x="66.1" y="253.37" class="lg" style="font-size:5.45px">SNPrule</text>
</g>
</svg>
</body></html>
